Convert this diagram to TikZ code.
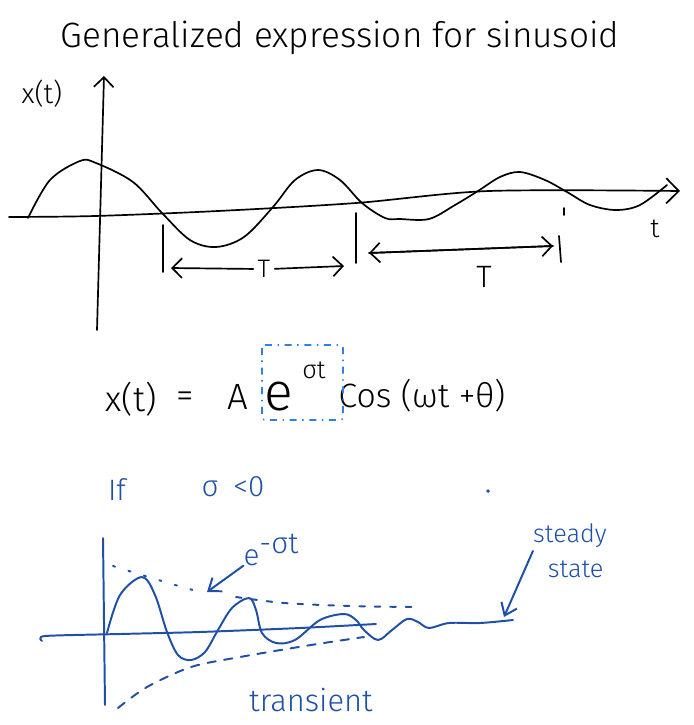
\documentclass[tikz,border=0pt]{standalone}
\usepackage{fontspec}
\setmainfont{Fira Sans Light}
\usetikzlibrary{calc,positioning,arrows.meta,fit}
\definecolor{inkblue}{HTML}{1F4FA6}
\definecolor{boxblue}{HTML}{2F80E0}

\begin{document}
\begin{tikzpicture}[x=0.025cm,y=-0.025cm,
  hand/.style={inner sep=0pt,font=\fontsize{#1}{#1}\selectfont},
  ink/.style={line width=1.2pt,line cap=round,line join=round},
  blueink/.style={ink,line width=1.4pt,draw=inkblue},
  barb/.style={-{Straight Barb[length=7pt,width=14pt]}},
  bigbarb/.style={-{Straight Barb[length=9pt,width=18pt]}},
  boxdash/.style={draw=boxblue,line width=1.1pt,dash pattern=on 5pt off 4pt on 1pt off 4pt}]
  \useasboundingbox (0,0) rectangle (693,725);

  \node[hand=25] (title) at (340,38) {Generalized expression for sinusoid};

  \coordinate (yb) at (97,330);
  \coordinate (yt) at (104,76);
  \draw[ink,barb] (yb) -- (yt);
  \node[hand=20] (xlab) at (42,94) {x(t)};
  \draw[ink,bigbarb] plot[smooth,tension=0.5] coordinates {(9,217) (95,216) (218,211) (356,203) (489,191) (680,191)};
  \node[hand=19] (tlab) at (655,229) {t};
  \draw[ink] plot[smooth,tension=0.55] coordinates {(28,218) (50,180) (80,161) (96,163) (133,182) (162,213) (190,240) (216,247) (244,237) (273,207) (295,180) (318,170) (340,180) (362,203) (385,218) (400,219) (429,219) (455,205) (478,191) (500,177) (520,172) (545,180) (567,192) (590,205) (616,210) (640,205) (667,185)};

  \coordinate (a1) at (171,268);
  \coordinate (a2) at (344,266);
  \coordinate (b1) at (369,253);
  \coordinate (b2) at (553,246);
  \draw[ink] (163,225) -- (163,272);
  \draw[ink] (356,213) -- (356,263);
  \draw[ink] (564,208) -- (564,215);
  \draw[ink] (559,236) -- (561,262);
  \node[hand=18] (T1) at (264,269) {T};
  \draw[ink,barb,shorten <=3pt] (T1.west) -- (a1);
  \draw[ink,barb,shorten <=3pt] (T1.east) -- (a2);
  \draw[ink,barb] (b2) -- (b1);
  \draw[ink,barb] (b1) -- (b2);
  \node[hand=22] (T2) at (484,277) {T};

  \node[hand=25] (xt) at (131,399) {x(t)};
  \node[hand=25] (eq) at (185,400) {=};
  \node[hand=26] (amp) at (238,397) {A};
  \node[hand=38] (ee) at (279,397) {e};
  \node[hand=18] (sig) at (314,370) {σt};
  \node[hand=24] (cosp) at (422,396) {Cos (ωt +θ)};
  \draw[boxdash,rounded corners=2pt] (262,345) rectangle (343,420);

  \node[hand=21,text=inkblue] (iff) at (117,490) {If};
  \node[hand=21,text=inkblue] (cond) at (233,487) {σ\enspace<0};
  \node[circle,fill=inkblue,inner sep=1pt] (dot) at (488,491) {};

  \draw[blueink] (103,538) -- (105,705);
  \draw[blueink] plot[smooth,tension=0.4] coordinates {(42,641) (45,636) (120,634) (200,632) (300,628) (376,624)};
  \draw[blueink] plot[smooth,tension=0.55] coordinates {(107,633) (120,595) (142,577) (155,595) (167,632) (178,655) (191,660) (205,652) (218,630) (232,608) (249,598) (256,610) (262,633) (276,643) (295,640) (320,620) (344,614) (356,620) (364,630) (378,640) (392,630) (407,619) (418,622) (429,628) (449,623) (480,623) (513,620)};
  \draw[inkblue,line width=1.4pt,line cap=round,dash pattern=on 1.5pt off 10pt] plot[smooth] coordinates {(113,566) (142,575) (182,587) (205,593)};
  \draw[inkblue,line width=1.4pt,line cap=round,dash pattern=on 4pt off 7pt] plot[smooth] coordinates {(236,597) (284,603) (350,606) (413,607)};
  \draw[inkblue,line width=1.4pt,line cap=round,dash pattern=on 6pt off 6pt] plot[smooth] coordinates {(118,708) (147,687) (191,667) (240,657) (311,645) (364,637)};

  \node[hand=21,text=inkblue] (env) at (271,550) {e\raisebox{8pt}{-σt}};
  \coordinate (envtip) at (207,592);
  \draw[blueink,-{Straight Barb[length=8pt,width=12pt]}] (env.south west) -- (envtip);
  \node[hand=18,text=inkblue,align=center,font=\fontsize{18}{25}\selectfont] (ss) at (570,551) {steady\\\hspace*{8pt}state};
  \coordinate (sstip) at (504,617);
  \draw[blueink,-{Straight Barb[length=8pt,width=12pt]}] (ss.west) -- (sstip);
  \node[hand=22,text=inkblue] (trans) at (311,700) {transient};
\end{tikzpicture}
\end{document}
